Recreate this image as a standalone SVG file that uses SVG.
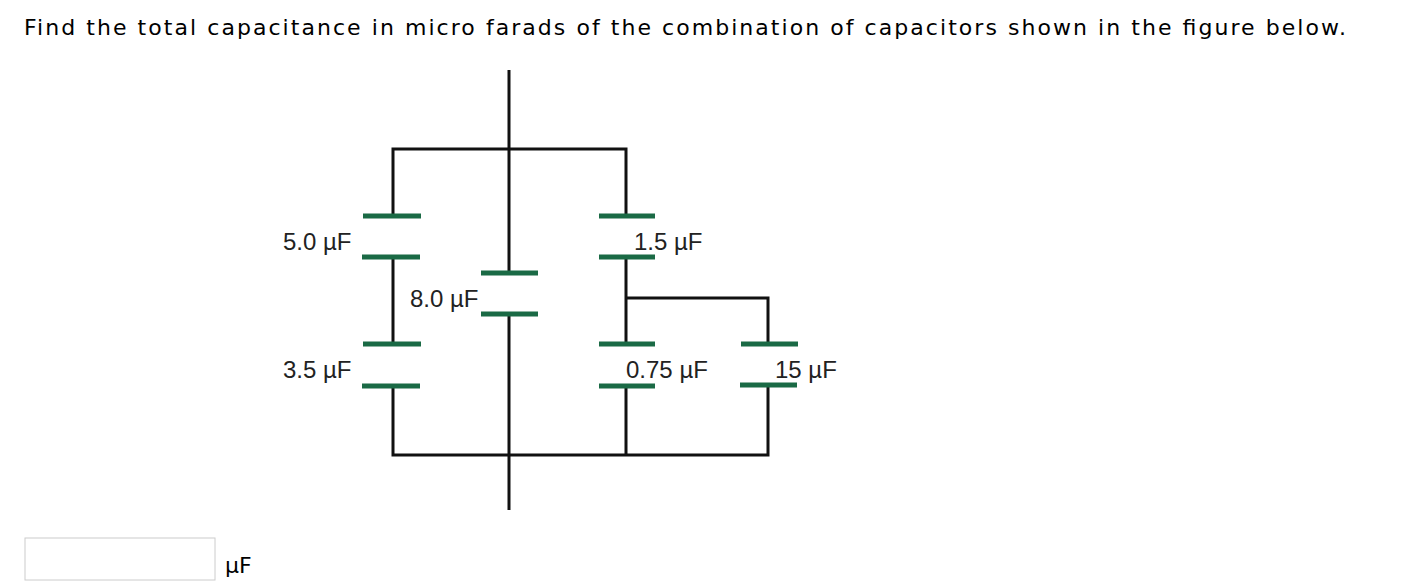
<svg xmlns="http://www.w3.org/2000/svg" width="1404" height="585" viewBox="0 0 1404 585">
<style>
.w{stroke:#111;stroke-width:3;fill:none}
.p{stroke:#1a6a45;stroke-width:5}
.l{font-family:"Liberation Sans",Arial,sans-serif;font-size:24px;fill:#222}
.t{font-family:"DejaVu Sans",Verdana,sans-serif;font-size:22px;fill:#000}
</style>
<rect width="1404" height="585" fill="#fff"/>
<text class="t" x="24" y="35" textLength="1322">Find the total capacitance in micro farads of the combination of capacitors shown in the figure below.</text>
<g id="wires">
<path class="w" d="M509 70V273M509 314V510"/>
<path class="w" d="M393 216V149H626V216"/>
<path class="w" d="M393 257V344M393 386V455H768V386"/>
<path class="w" d="M626 257V344M626 298H768V344M626 386V455"/>
</g>
<g id="c5"><line class="p" x1="363" y1="216" x2="421" y2="216"/><line class="p" x1="362" y1="257" x2="420" y2="257"/><text class="l" x="283" y="250">5.0 µF</text></g>
<g id="c35"><line class="p" x1="363" y1="344" x2="421" y2="344"/><line class="p" x1="362" y1="386" x2="420" y2="386"/><text class="l" x="283" y="378">3.5 µF</text></g>
<g id="c8"><line class="p" x1="481" y1="273" x2="538" y2="273"/><line class="p" x1="481" y1="314" x2="538" y2="314"/><text class="l" x="410" y="307">8.0 µF</text></g>
<g id="c15a"><line class="p" x1="599" y1="216" x2="655" y2="216"/><line class="p" x1="599" y1="257" x2="655" y2="257"/><text class="l" x="634" y="250">1.5 µF</text></g>
<g id="c075"><line class="p" x1="599" y1="344" x2="655" y2="344"/><line class="p" x1="599" y1="386" x2="655" y2="386"/><text class="l" x="626" y="378">0.75 µF</text></g>
<g id="c15"><line class="p" x1="741" y1="344" x2="798" y2="344"/><line class="p" x1="740" y1="385" x2="797" y2="385"/><text class="l" x="775" y="378">15 µF</text></g>
<g id="answer"><rect x="25" y="538" width="190" height="42" fill="#fff" stroke="#ccc" stroke-width="1"/><text class="t" x="225" y="573">µF</text></g>
</svg>
